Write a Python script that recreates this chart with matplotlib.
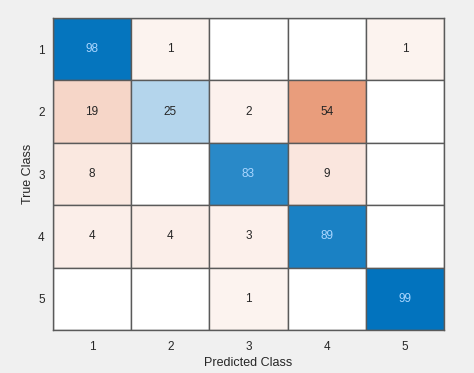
import matplotlib
matplotlib.use("Agg")
import matplotlib.pyplot as plt
import numpy as np
from matplotlib.patches import Rectangle

plt.rcParams['font.family'] = ['Liberation Sans', 'DejaVu Sans']

classes = ["1", "2", "3", "4", "5"]
row1 = [98, 1, 0, 0, 1]
row2 = [19, 25, 2, 54, 0]
row3 = [8, 0, 83, 9, 0]
row4 = [4, 4, 3, 89, 0]
row5 = [0, 0, 1, 0, 99]
matrix = np.array([row1, row2, row3, row4, row5])

blue = np.array([0, 114, 189]) / 255
orange = np.array([217, 83, 25]) / 255
white = np.array([1.0, 1.0, 1.0])

fig = plt.figure(figsize=(4.74, 3.73), dpi=100, facecolor='#f0f0f0')
ax = fig.add_axes([0.1118, 0.1153, 0.8249, 0.8364])
n = len(classes)
total = matrix.sum(axis=1).max()
for i in range(n):
    for j in range(n):
        v = matrix[i, j]
        f = 0.06 + 0.94 * v / total if v > 0 else 0.0
        base = blue if i == j else orange
        col = white * (1 - f) + base * f
        ax.add_patch(Rectangle((j - 0.5, i - 0.5), 1, 1, facecolor=col,
                               edgecolor='#5a5a5a', linewidth=1.0))
        if v > 0:
            tcol = '#aad6ff' if f > 0.6 else '#262626'
            ax.text(j, i, str(v), ha='center', va='center', fontsize=8.5, color=tcol)

ax.set_xlim(-0.5, n - 0.5)
ax.set_ylim(n - 0.5, -0.5)
ax.set_xticks(range(n))
ax.set_xticklabels(classes)
ax.set_yticks(range(n))
ax.set_yticklabels(classes)
ax.tick_params(length=0, labelsize=8.5, colors='#262626')
ax.tick_params(axis='x', pad=8)
ax.tick_params(axis='y', pad=6)
for s in ax.spines.values():
    s.set_color('#5a5a5a')
    s.set_linewidth(1.0)
ax.set_xlabel('Predicted Class', fontsize=9, color='#262626', labelpad=3)
ax.set_ylabel('True Class', fontsize=9, color='#262626', labelpad=3)

fig.savefig('out.png', dpi=100, facecolor=fig.get_facecolor())
